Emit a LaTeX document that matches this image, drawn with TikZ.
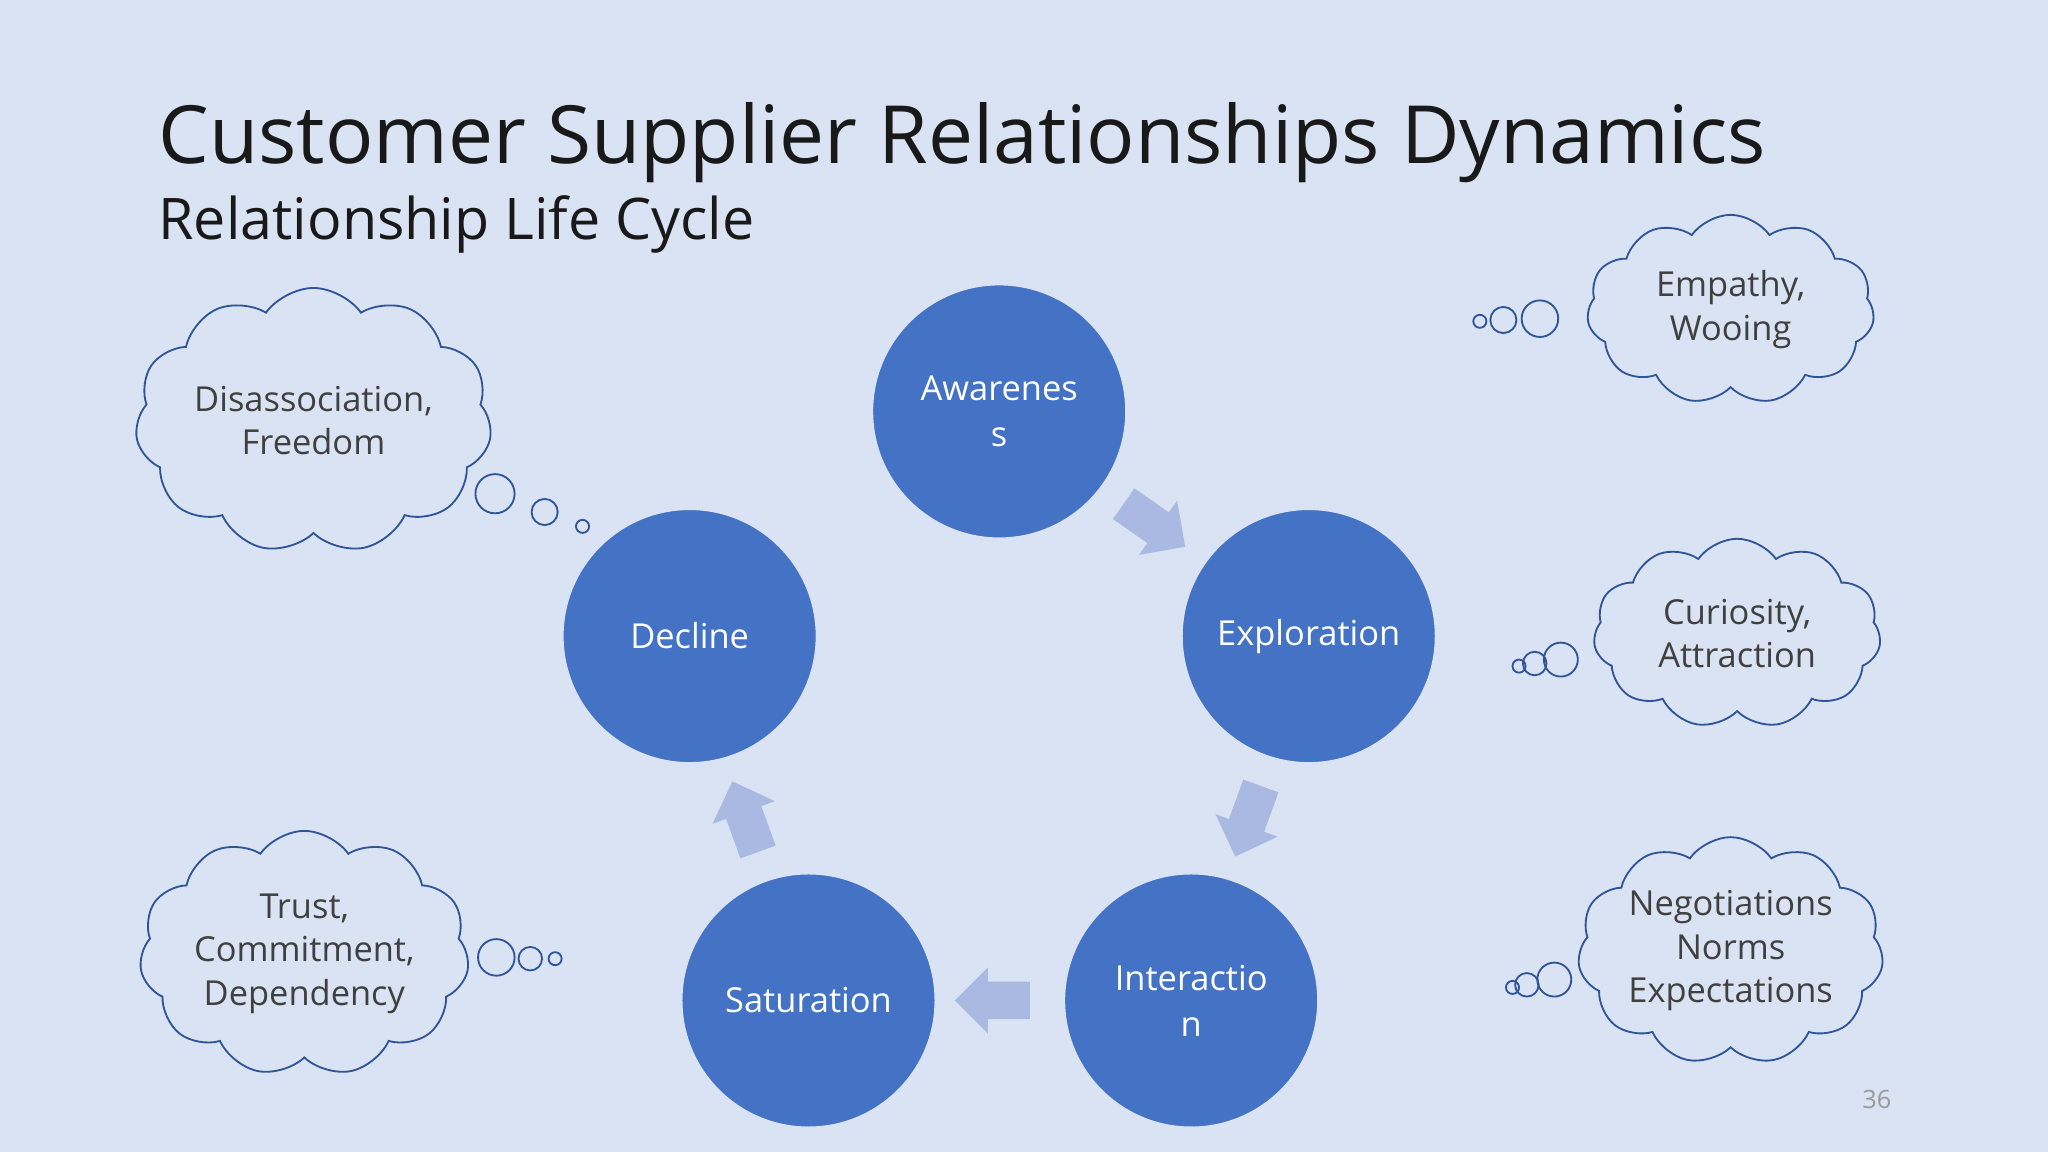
\documentclass[tikz,border=0pt]{standalone}
\usepackage{fontspec}
\setmainfont{Open Sans}
\usetikzlibrary{shapes.symbols,shapes.arrows,positioning}
\definecolor{slidebg}{HTML}{DAE3F3}
\definecolor{stagefill}{HTML}{4472C4}
\definecolor{cloudline}{HTML}{2F5597}
\definecolor{flowfill}{HTML}{AAB9E1}
\definecolor{cloudtext}{HTML}{404040}
\begin{document}
\begin{tikzpicture}[x=0.2mm,y=-0.2mm,
    stage/.style={circle, draw=white!80!stagefill, line width=0.6pt, fill=stagefill, minimum size=3.88cm, text=white, align=center, font=\fontsize{15}{20}\selectfont},
    thought/.style={cloud, cloud puffs=11, cloud puff arc=110, aspect=1.5, draw=cloudline, line width=0.8pt, minimum width=4.4cm, minimum height=2.9cm, inner sep=0pt, align=center, text=cloudtext, font=\fontsize{15}{19}\selectfont},
    bubble/.style={circle, draw=cloudline, line width=0.8pt, inner sep=0pt},
    flow/.style={single arrow, fill=flowfill, minimum height=1.15cm, inner sep=0.28cm, single arrow head extend=0.22cm}
]
\fill[slidebg] (0,0) rectangle (1568,882);
\useasboundingbox (0,0) rectangle (1568,882);

% Title
\node[anchor=base west, inner sep=0pt, text=black!90, font=\fontsize{35}{42}\selectfont] (title) at (121,125) {Customer Supplier Relationships Dynamics};
\node[anchor=base west, inner sep=0pt, text=black!90, font=\fontsize{25}{30}\selectfont] (subtitle) at (121,183) {Relationship Life Cycle};

% Stages
\node[stage] (aware) at (765,315) {Awarenes\\s};
\node[stage] (explore) at (1002,487) {Exploration};
\node[stage] (interact) at (912,766) {Interactio\\n};
\node[stage] (saturate) at (619,766) {Saturation};
\node[stage] (decline) at (528,487) {Decline};

% Flow arrows
\node[flow, rotate=-35] (f1) at (878,398) {};
\node[flow, rotate=-110] (f2) at (958,622) {};
\node[flow, rotate=180] (f3) at (767,766) {};
\node[flow, rotate=110] (f4) at (573,632) {};

% Thought clouds
\node[thought] (cdecline) at (240,322) {Disassociation,\\Freedom};
\node[thought] (caware) at (1325,237) {Empathy,\\Wooing};
\node[thought] (cexplore) at (1330,485) {Curiosity,\\Attraction};
\node[thought] (cinteract) at (1325,728) {Negotiations\\Norms\\Expectations};
\node[thought] (csaturate) at (233,730) {Trust,\\Commitment,\\Dependency};

% Bubbles
\node[bubble, minimum size=0.6cm] (b1a) at (379,378) {};
\node[bubble, minimum size=0.4cm] (b1b) at (417,392) {};
\node[bubble, minimum size=0.2cm] (b1c) at (446,403) {};
\node[bubble, minimum size=0.56cm] (b2a) at (1179,244) {};
\node[bubble, minimum size=0.4cm] (b2b) at (1151,245) {};
\node[bubble, minimum size=0.2cm] (b2c) at (1133,246) {};
\node[bubble, minimum size=0.52cm] (b3a) at (1195,505) {};
\node[bubble, minimum size=0.36cm] (b3b) at (1175,508) {};
\node[bubble, minimum size=0.2cm] (b3c) at (1163,510) {};
\node[bubble, minimum size=0.52cm] (b4a) at (1190,750) {};
\node[bubble, minimum size=0.36cm] (b4b) at (1169,754) {};
\node[bubble, minimum size=0.2cm] (b4c) at (1158,756) {};
\node[bubble, minimum size=0.56cm] (b5a) at (380,733) {};
\node[bubble, minimum size=0.36cm] (b5b) at (406,734) {};
\node[bubble, minimum size=0.2cm] (b5c) at (425,734) {};

\node[text=black!40, font=\fontsize{11}{13}\selectfont] (page) at (1437,842) {36};
\end{tikzpicture}
\end{document}
